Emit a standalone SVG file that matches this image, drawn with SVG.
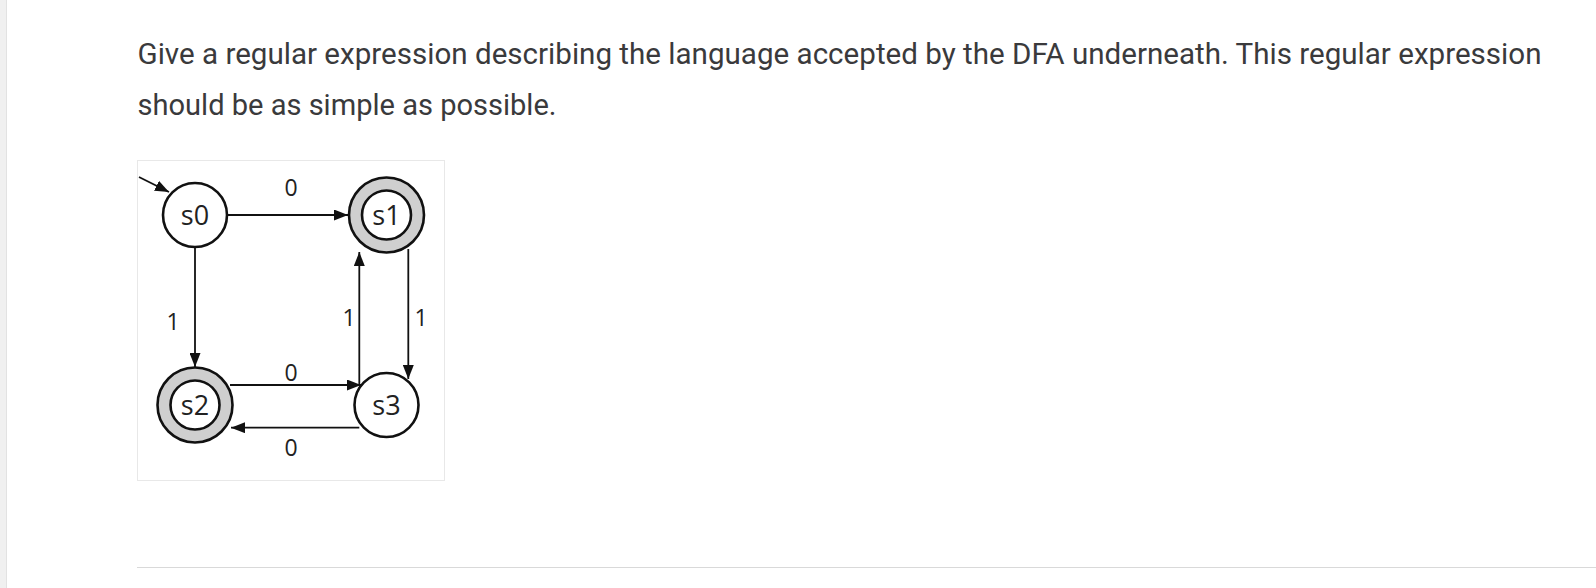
<svg xmlns="http://www.w3.org/2000/svg" width="1596" height="588" viewBox="0 0 1596 588">
<defs>
<marker id="arr" viewBox="0 0 14 11" refX="14" refY="5.5" markerWidth="14" markerHeight="11" markerUnits="userSpaceOnUse" orient="auto">
<path d="M0,0 L14,5.5 L0,11 Z" fill="#111"/>
</marker>
<style>
.title{font-family:Roboto,"Liberation Sans",sans-serif;font-size:29px;fill:#3a3a3c}
.node{fill:#fff;stroke:#111;stroke-width:2.6}
.ring{fill:#cfcfcf;stroke:#111;stroke-width:2.6}
.nl{font-family:"Open Sans","Noto Sans",sans-serif;font-size:27px;fill:#222;text-anchor:middle}
.el{font-family:"Open Sans","Noto Sans",sans-serif;font-size:23px;fill:#222;text-anchor:middle}
.edge{stroke:#111;stroke-width:1.8;fill:none;marker-end:url(#arr)}
</style>
</defs>
<rect x="0" y="0" width="1596" height="588" fill="#fff"/>
<rect x="0" y="0" width="7" height="588" fill="#f0f0f0"/>
<line x1="6.5" y1="0" x2="6.5" y2="588" stroke="#e2e2e2" stroke-width="1"/>
<text class="title" x="137.5" y="64" textLength="1404" lengthAdjust="spacingAndGlyphs">Give a regular expression describing the language accepted by the DFA underneath. This regular expression</text>
<text class="title" x="137.5" y="115" textLength="419" lengthAdjust="spacingAndGlyphs">should be as simple as possible.</text>
<rect x="137.5" y="160.5" width="307" height="320" fill="#fff" stroke="#e8e8e8" stroke-width="1"/>
<line x1="137" y1="567.5" x2="1596" y2="567.5" stroke="#d9d9d9" stroke-width="1.2"/>
<g id="connectors">
<line class="edge" x1="139" y1="177" x2="169" y2="192"/>
<line class="edge" x1="228" y1="215" x2="348" y2="215"/>
<line class="edge" x1="195" y1="248" x2="195" y2="367"/>
<line class="edge" x1="408.3" y1="249" x2="408.3" y2="379"/>
<line class="edge" x1="359.3" y1="386" x2="359.3" y2="252"/>
<line class="edge" x1="230" y1="385" x2="361" y2="385"/>
<line class="edge" x1="359.3" y1="427.7" x2="231" y2="427.7"/>
<text class="el" x="291" y="196">0</text>
<text class="el" x="173" y="330">1</text>
<text class="el" x="349" y="326">1</text>
<text class="el" x="421" y="326">1</text>
<text class="el" x="291" y="381">0</text>
<text class="el" x="291" y="456">0</text>
</g>
<g id="s0">
<circle class="node" cx="195" cy="215" r="32"/>
<text class="nl" x="195" y="224.5">s0</text>
</g>
<g id="s1">
<circle class="ring" cx="386.5" cy="215" r="37.5"/>
<circle class="node" cx="386.5" cy="215" r="24.5"/>
<text class="nl" x="386.5" y="224.5">s1</text>
</g>
<g id="s2">
<circle class="ring" cx="195" cy="405" r="37.5"/>
<circle class="node" cx="195" cy="405" r="24.5"/>
<text class="nl" x="195" y="414.5">s2</text>
</g>
<g id="s3">
<circle class="node" cx="386.5" cy="405" r="32"/>
<text class="nl" x="386.5" y="414.5">s3</text>
</g>
</svg>
